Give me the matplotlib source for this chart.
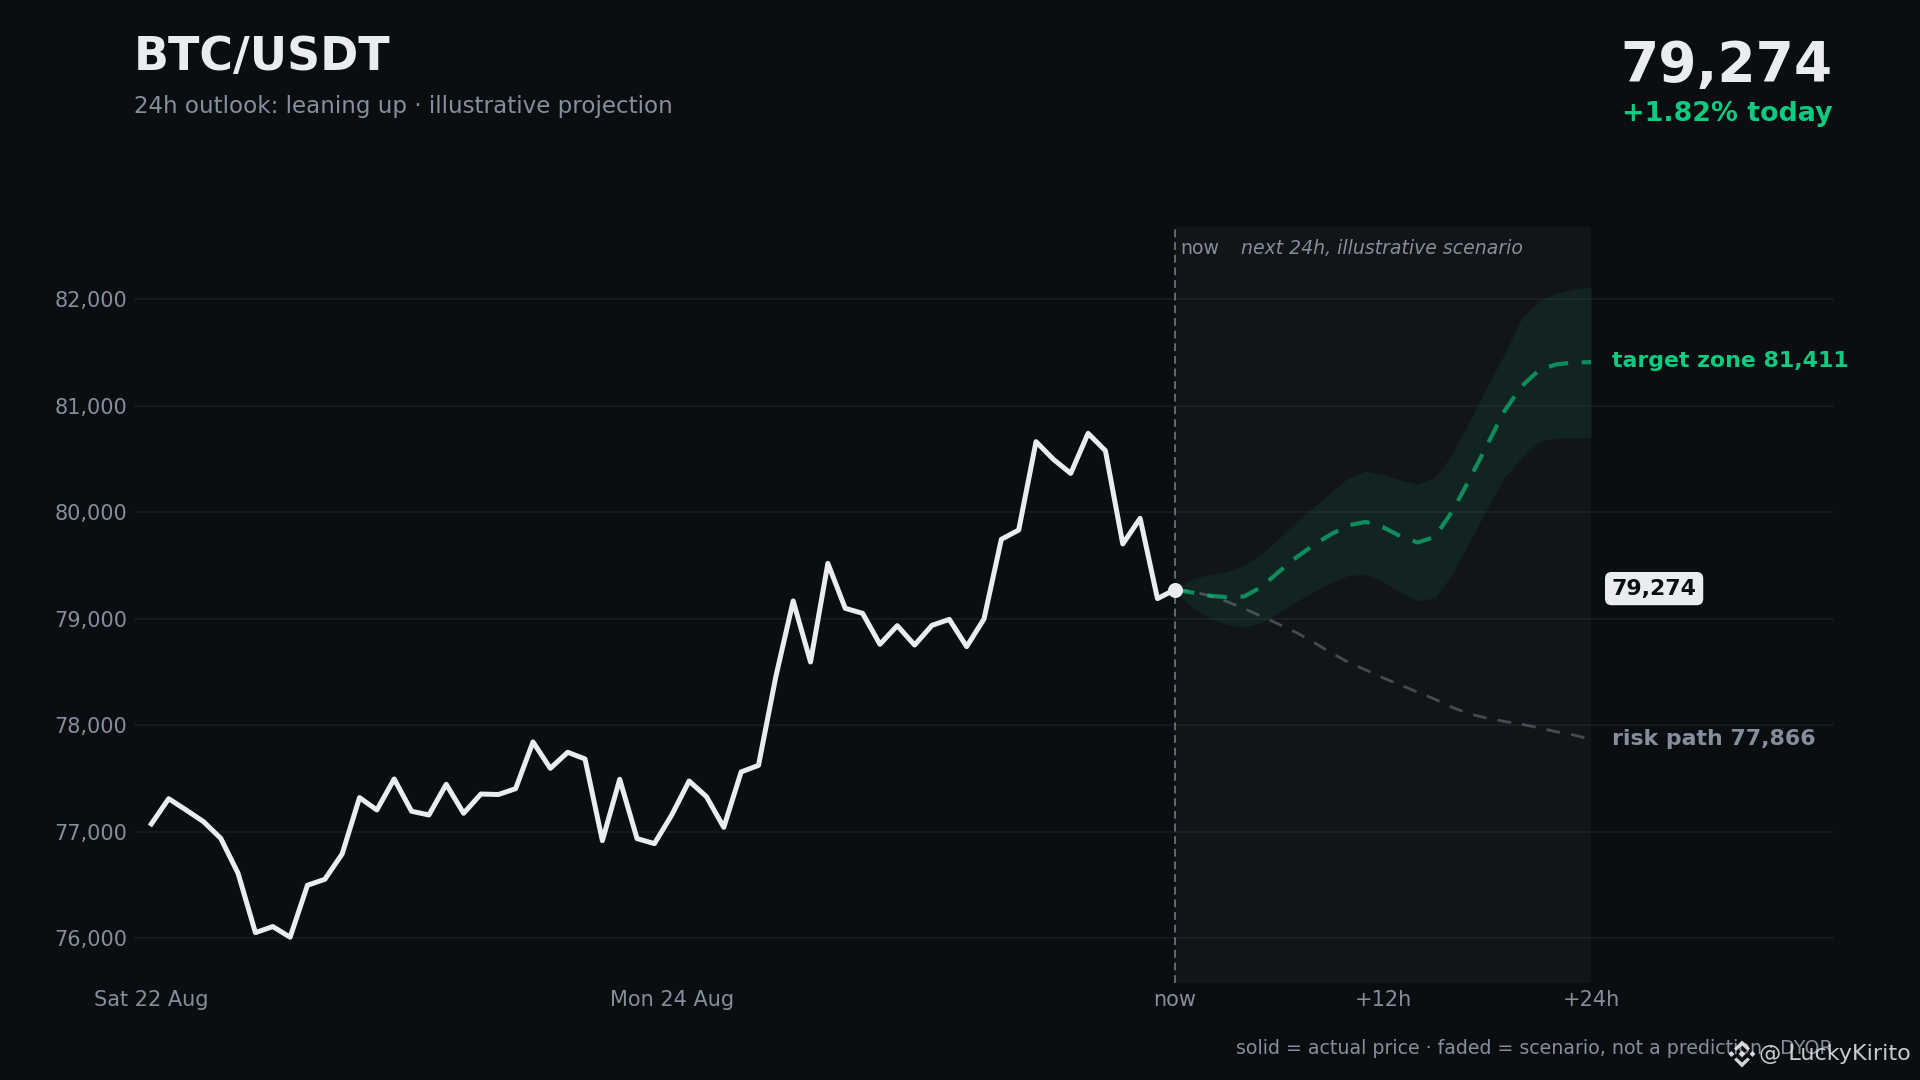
"""
BTC/USDT 24h outlook chart
"""

import matplotlib
matplotlib.use("Agg")
import matplotlib.pyplot as plt
from matplotlib.patches import Polygon
import numpy as np

BG = "#0b0e11"
TEXT = "#eaecef"
MUTED = "#848e9c"
GREEN = "#0ecb81"
GRID = "#181b23"

price = [
    77074, 77311, 77205, 77096, 76939, 76610, 76053, 76110, 76010, 76498,
    76554, 76792, 77321, 77205, 77496, 77193, 77158, 77446, 77174, 77355,
    77350, 77405, 77844, 77596, 77747, 77684, 76917, 77493, 76936, 76889,
    77158, 77477, 77330, 77042, 77562, 77624, 78457, 79168, 78595, 79521,
    79099, 79052, 78761, 78936, 78754, 78939, 78995, 78739, 78999, 79747,
    79834, 80664, 80498, 80366, 80742, 80579, 79703, 79944, 79190, 79274,
]

target_path = [
    79274, 79247, 79217, 79204, 79210, 79301, 79442, 79576, 79693, 79794,
    79878, 79911, 79861, 79777, 79717, 79770, 80012, 80313, 80632, 80951,
    81185, 81336, 81390, 81407, 81411,
]
band_upper = [
    79274, 79375, 79415, 79442, 79499, 79609, 79753, 79911, 80052, 80189,
    80323, 80387, 80354, 80303, 80263, 80330, 80548, 80860, 81175, 81487,
    81822, 81990, 82057, 82097, 82117,
]
band_lower = [
    79274, 79106, 79012, 78949, 78922, 78966, 79063, 79163, 79257, 79341,
    79408, 79418, 79351, 79251, 79170, 79197, 79425, 79727, 80035, 80330,
    80515, 80666, 80699, 80702, 80699,
]
risk_path = [
    79274, 79257, 79217, 79163, 79096, 79023, 78949, 78872, 78781, 78681,
    78593, 78520, 78446, 78379, 78312, 78245, 78168, 78107, 78067, 78037,
    78010, 77976, 77940, 77909, 77866,
]

y_ticks = [76000, 77000, 78000, 79000, 80000, 81000, 82000]
x_ticks = [0, 30, 59, 71, 83]
x_labels = ["Sat 22 Aug", "Mon 24 Aug", "now", "+12h", "+24h"]


def draw_badge(fig):
    # binance style logo next to the handle, offsets in pixels from its centre
    cx, cy, w, h = 1742, 1054, 1920, 1080
    pieces = [
        [(-3.5, 0), (0, -3.5), (3.5, 0), (0, 3.5)],
        [(-13.5, 0), (-10.5, -3), (-7.5, 0), (-10.5, 3)],
        [(13.5, 0), (10.5, -3), (7.5, 0), (10.5, 3)],
        [(0, -13.5), (8, -5.5), (5.5, -3.5), (0, -8.5), (-5.5, -3.5), (-8, -5.5)],
        [(0, 13.5), (8, 5.5), (5.5, 3.5), (0, 8.5), (-5.5, 3.5), (-8, 5.5)],
    ]
    for piece in pieces:
        pts = [((cx + dx) / w, 1 - (cy + dy) / h) for dx, dy in piece]
        fig.add_artist(Polygon(pts, closed=True, transform=fig.transFigure,
                               facecolor=TEXT, edgecolor="none", alpha=0.9, zorder=10))


def main():
    fig = plt.figure(figsize=(9.6, 5.4), dpi=200, facecolor=BG)
    ax = fig.add_axes([134 / 1920, 1 - 983 / 1080, 1700 / 1920, 756 / 1080], facecolor=BG)

    hist_x = np.arange(len(price))
    now = hist_x[-1]
    future_x = now + np.arange(len(target_path))

    ax.axvspan(now, future_x[-1], color="#ffffff", alpha=0.03, lw=0, zorder=1)
    ax.fill_between(future_x, band_lower, band_upper, color=GREEN, alpha=0.085, lw=0, zorder=2)

    ax.plot(future_x, risk_path, color=MUTED, alpha=0.45, lw=1.0, dashes=(5, 4), zorder=3)
    ax.plot(future_x, target_path, color=GREEN, alpha=0.62, lw=1.5, dashes=(4.7, 3.25), zorder=4)
    ax.axvline(now, color=MUTED, alpha=0.7, lw=0.7, dashes=(4, 2.5), zorder=3)
    ax.plot(hist_x, price, color=TEXT, lw=1.8, solid_joinstyle="round", zorder=5)
    ax.plot([now], [price[-1]], "o", color=TEXT, ms=5.4, mew=0, zorder=6)

    ax.set_xlim(-1, 97)
    ax.set_ylim(75580, 82680)
    ax.set_yticks(y_ticks)
    ax.set_yticklabels([f"{v:,}" for v in y_ticks])
    ax.set_xticks(x_ticks)
    ax.set_xticklabels(x_labels)
    ax.tick_params(length=0, colors=MUTED, labelsize=7.5, pad=2.4)
    ax.grid(axis="y", color=GRID, lw=0.6, zorder=0)
    ax.set_axisbelow(True)
    for side in ax.spines.values():
        side.set_visible(False)

    ax.text(now + 0.3, 82475, "now", color=MUTED, fontsize=6.8, va="center")
    ax.text(now + 3.8, 82475, "next 24h, illustrative scenario", color=MUTED,
            fontsize=6.8, style="italic", va="center")

    label_x = future_x[-1] + 1.18
    ax.text(label_x, target_path[-1] + 10, f"target zone {target_path[-1]:,}", color=GREEN,
            fontsize=7.95, fontweight="bold", va="center", clip_on=False)
    ax.text(label_x, risk_path[-1] + 10, f"risk path {risk_path[-1]:,}", color=MUTED,
            fontsize=7.95, fontweight="bold", va="center", clip_on=False)
    ax.text(label_x, price[-1] + 10, f"{price[-1]:,}", color=BG, fontsize=7.95,
            fontweight="bold", va="center", clip_on=False,
            bbox=dict(boxstyle="round,pad=0.3", fc=TEXT, ec="none"))

    fig.text(134 / 1920, 1 - 57 / 1080, "BTC/USDT", color=TEXT, fontsize=16.5,
             fontweight="bold", va="center")
    fig.text(134 / 1920, 1 - 106 / 1080, "24h outlook: leaning up · illustrative projection",
             color=MUTED, fontsize=8.27, va="center")
    fig.text(1833 / 1920, 1 - 66 / 1080, f"{price[-1]:,}", color=TEXT, fontsize=19.8,
             fontweight="bold", ha="right", va="center")
    fig.text(1833 / 1920, 1 - 114 / 1080, "+1.82% today", color=GREEN, fontsize=9.7,
             fontweight="bold", ha="right", va="center")
    fig.text(1833 / 1920, 1 - 1048 / 1080,
             "solid = actual price · faded = scenario, not a prediction · DYOR",
             color=MUTED, fontsize=6.85, ha="right", va="center")
    fig.text(1911 / 1920, 1 - 1054 / 1080, "@ LuckyKirito", color=TEXT, alpha=0.85,
             fontsize=8, ha="right", va="center", zorder=10)
    draw_badge(fig)

    fig.savefig("out.png", dpi=200, facecolor=BG)


if __name__ == "__main__":
    main()
